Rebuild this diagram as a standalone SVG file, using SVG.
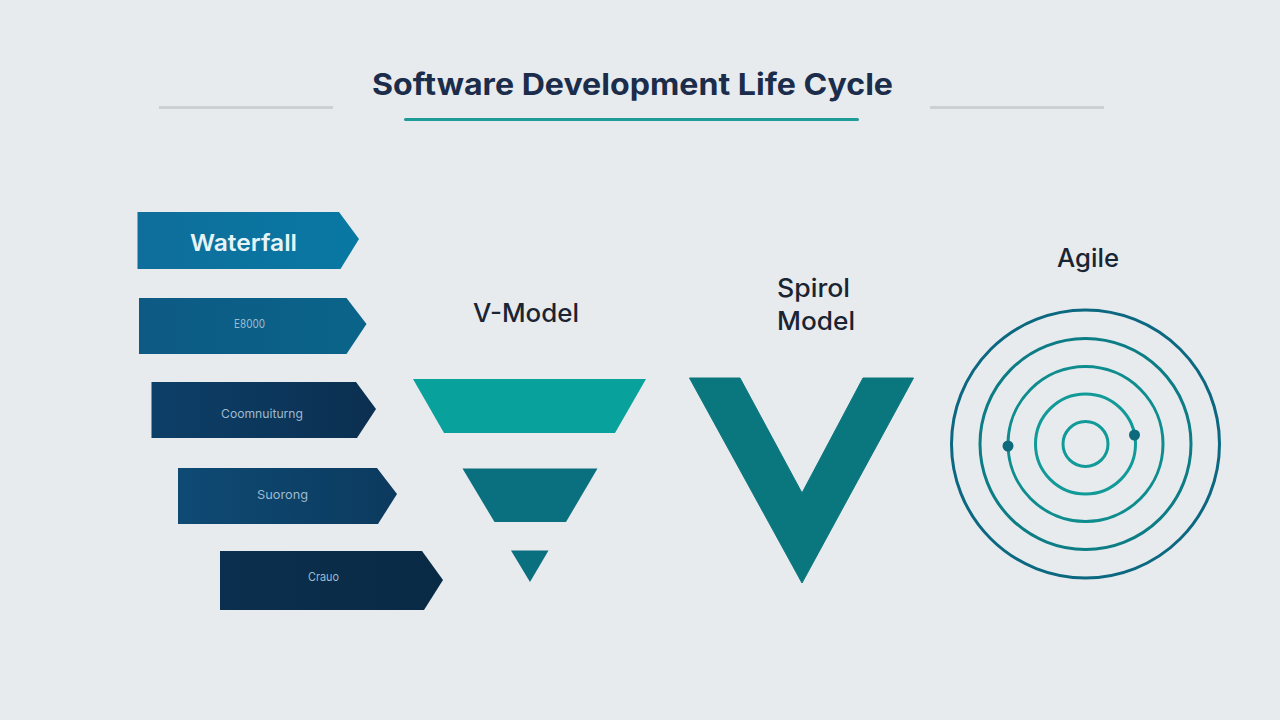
<svg xmlns="http://www.w3.org/2000/svg" width="1280" height="720" viewBox="0 0 1280 720">
<defs>
<linearGradient id="g1" x1="0" y1="0" x2="1" y2="0"><stop offset="0" stop-color="#0f6e9b"/><stop offset="1" stop-color="#0878a3"/></linearGradient>
<linearGradient id="g2" x1="0" y1="0" x2="1" y2="0"><stop offset="0" stop-color="#0d5a85"/><stop offset="1" stop-color="#0a6489"/></linearGradient>
<linearGradient id="g3" x1="0" y1="0" x2="1" y2="0"><stop offset="0" stop-color="#0d3f68"/><stop offset="1" stop-color="#0b2f50"/></linearGradient>
<linearGradient id="g4" x1="0" y1="0" x2="1" y2="0"><stop offset="0" stop-color="#0e4a74"/><stop offset="1" stop-color="#0c3a5e"/></linearGradient>
<linearGradient id="g5" x1="0" y1="0" x2="1" y2="0"><stop offset="0" stop-color="#0b2f4e"/><stop offset="1" stop-color="#092a45"/></linearGradient>
</defs>
<style>
text{font-family:Inter,"Liberation Sans",Arial,sans-serif}
.lab{font-size:25px;fill:#1a2433;font-weight:500}
.sm{font-size:12px;fill:#9dbbd0}
.ring{fill:none;stroke-width:3}
</style>
<rect width="1280" height="720" fill="#e7ebee"/>
<g id="header">
<text x="372" y="95" font-size="30" font-weight="700" fill="#1b2d4a" textLength="521" lengthAdjust="spacingAndGlyphs">Software Development Life Cycle</text>
<rect x="159" y="106" width="174" height="3" fill="#ccd0d3"/>
<rect x="930" y="106" width="174" height="3" fill="#ccd0d3"/>
<rect x="404" y="118" width="455" height="3" rx="1.500" fill="#1f9c98"/>
</g>
<g id="waterfall">
<polygon points="137.500,212 339,212 359,239 340.500,269 137.500,269" fill="url(#g1)"/>
<text x="190" y="251" font-size="23" font-weight="600" fill="#e6f4f8" textLength="107" lengthAdjust="spacingAndGlyphs">Waterfall</text>
</g>
<g id="phase-2">
<polygon points="139,298 346.500,298 366.500,324 346.500,354 139,354" fill="url(#g2)"/>
<text x="234" y="328" class="sm" textLength="31" lengthAdjust="spacingAndGlyphs">E8000</text>
</g>
<g id="phase-3">
<polygon points="151.500,382 356,382 376,409 357,438 151.500,438" fill="url(#g3)"/>
<text x="221" y="418" class="sm" textLength="82" lengthAdjust="spacingAndGlyphs">Coomnuiturng</text>
</g>
<g id="phase-4">
<polygon points="178,468 377,468 397,494 378,524 178,524" fill="url(#g4)"/>
<text x="257" y="499" class="sm" textLength="51" lengthAdjust="spacingAndGlyphs">Suorong</text>
</g>
<g id="phase-5">
<polygon points="220,551 422,551 443,580 424,610 220,610" fill="url(#g5)"/>
<text x="308" y="581" class="sm" textLength="31" lengthAdjust="spacingAndGlyphs">Crauo</text>
</g>
<g id="v-model">
<text x="473" y="322" class="lab" textLength="106" lengthAdjust="spacingAndGlyphs">V-Model</text>
<polygon points="413,379 646,379 615,433 444,433" fill="#08a19c"/>
<polygon points="462.500,468.500 597.500,468.500 566,522 494.500,522" fill="#0a6f7e"/>
<polygon points="511,550.500 548.500,550.500 530,582" fill="#0a6f7e"/>
</g>
<g id="spiral-model">
<text x="777" y="297" class="lab" textLength="73" lengthAdjust="spacingAndGlyphs">Spirol</text>
<text x="777" y="330" class="lab" textLength="78" lengthAdjust="spacingAndGlyphs">Model</text>
<polygon points="689.500,378 740,378 802,493 863,378 913.500,378 802,583" fill="#0a767d" stroke="#0a767d" stroke-width="1" stroke-linejoin="round"/>
</g>
<g id="agile">
<text x="1057" y="267" class="lab" textLength="62" lengthAdjust="spacingAndGlyphs">Agile</text>
<circle class="ring" cx="1085.500" cy="444" r="134" stroke="#0c6880"/>
<circle class="ring" cx="1085.500" cy="444" r="105.500" stroke="#0d7d85"/>
<circle class="ring" cx="1085.500" cy="444" r="77.500" stroke="#0f8d8e"/>
<circle class="ring" cx="1085.500" cy="444" r="50" stroke="#119a97"/>
<circle class="ring" cx="1085.500" cy="444" r="22.500" stroke="#119a97"/>
<circle cx="1008" cy="446" r="5.500" fill="#0c6a7c"/>
<circle cx="1134.500" cy="435" r="5.500" fill="#0c6a7c"/>
</g>
<g id="connectors"></g>
</svg>
